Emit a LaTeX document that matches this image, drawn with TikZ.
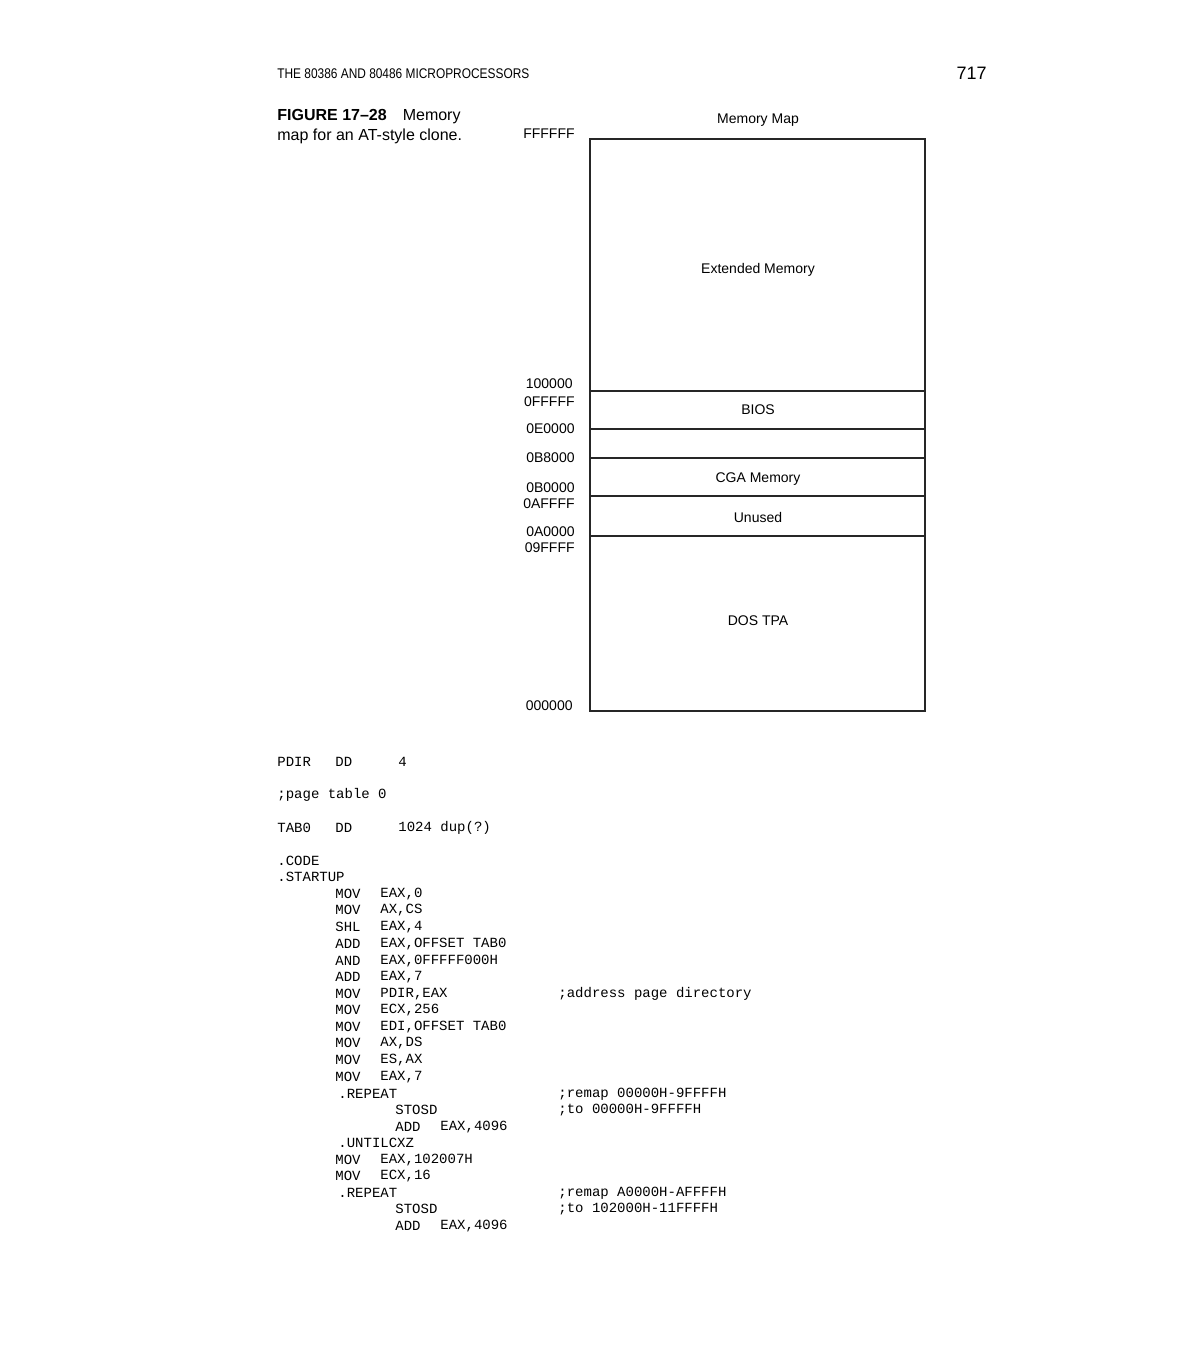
\documentclass[tikz,border=0pt]{standalone}
\usepackage{fontspec}
\setmainfont{Liberation Sans}
\newfontfamily\codefont{Liberation Mono}
\begin{document}
\begin{tikzpicture}[x=0.5pt,y=-0.5pt,
  lab/.style={font=\fontsize{7}{8}\selectfont,inner sep=0},
  addr/.style={lab,anchor=east},
  code/.style={font=\codefont\fontsize{7}{8}\selectfont,anchor=west,inner sep=0},
  region/.style={draw=black!85,line width=1pt}]
\useasboundingbox (0,0) rectangle (1200,1345);
\node[lab,anchor=west,xscale=0.85,transform shape] (hdr) at (277,74) {THE 80386 AND 80486 MICROPROCESSORS};
\node[lab,anchor=east,font=\fontsize{9}{10}\selectfont] (pg) at (987,73) {717};
\node[lab,anchor=north west,align=left,font=\fontsize{8}{10}\selectfont] (cap) at (277,109) {\textbf{FIGURE 17--28}\quad Memory\\map for an AT-style clone.};
\node[lab] (title) at (758,120) {Memory Map};
\draw[region] (590,139) rectangle (925,711);
\foreach \y in {391,429,458,496,536} \draw[region] (590,\y) -- (925,\y);
\node[lab] (ext) at (758,270) {Extended Memory};
\node[lab] (bios) at (758,410) {BIOS};
\node[lab] (cga) at (758,479) {CGA Memory};
\node[lab] (un) at (758,517) {Unused};
\node[lab] (dos) at (758,621) {DOS TPA};
\node[addr] (a1) at (575,134) {FFFFFF};
\node[addr] (a2) at (573,384) {100000};
\node[addr] (a3) at (575,402) {0FFFFF};
\node[addr] (a4) at (575,429) {0E0000};
\node[addr] (a5) at (575,458) {0B8000};
\node[addr] (a6) at (575,488) {0B0000};
\node[addr] (a7) at (575,504) {0AFFFF};
\node[addr] (a8) at (575,532) {0A0000};
\node[addr] (a9) at (575,548) {09FFFF};
\node[addr] (a10) at (573,706) {000000};
\foreach \x/\y/\t [count=\i] in {
 277/762/PDIR, 335/762/DD, 398/762/4,
 277/795/;page table 0,
 277/828/TAB0, 335/828/DD, 398/828/1024 dup(?),
 277/861/.CODE, 277/877/.STARTUP,
 335/894/MOV, 380/894/{EAX,0},
 335/910/MOV, 380/910/{AX,CS},
 335/927/SHL, 380/927/{EAX,4},
 335/944/ADD, 380/944/{EAX,OFFSET TAB0},
 335/961/AND, 380/961/{EAX,0FFFFF000H},
 335/977/ADD, 380/977/{EAX,7},
 335/994/MOV, 380/994/{PDIR,EAX}, 558/994/;address page directory,
 335/1010/MOV, 380/1010/{ECX,256},
 335/1027/MOV, 380/1027/{EDI,OFFSET TAB0},
 335/1043/MOV, 380/1043/{AX,DS},
 335/1060/MOV, 380/1060/{ES,AX},
 335/1077/MOV, 380/1077/{EAX,7},
 338/1094/.REPEAT, 558/1094/;remap 00000H-9FFFFH,
 395/1110/STOSD, 558/1110/;to 00000H-9FFFFH,
 395/1127/ADD, 440/1127/{EAX,4096},
 338/1143/.UNTILCXZ,
 335/1160/MOV, 380/1160/{EAX,102007H},
 335/1176/MOV, 380/1176/{ECX,16},
 338/1193/.REPEAT, 558/1193/;remap A0000H-AFFFFH,
 395/1209/STOSD, 558/1209/;to 102000H-11FFFFH,
 395/1226/ADD, 440/1226/{EAX,4096}}
 \node[code] (c\i) at (\x,\y) {\t};
\end{tikzpicture}
\end{document}
